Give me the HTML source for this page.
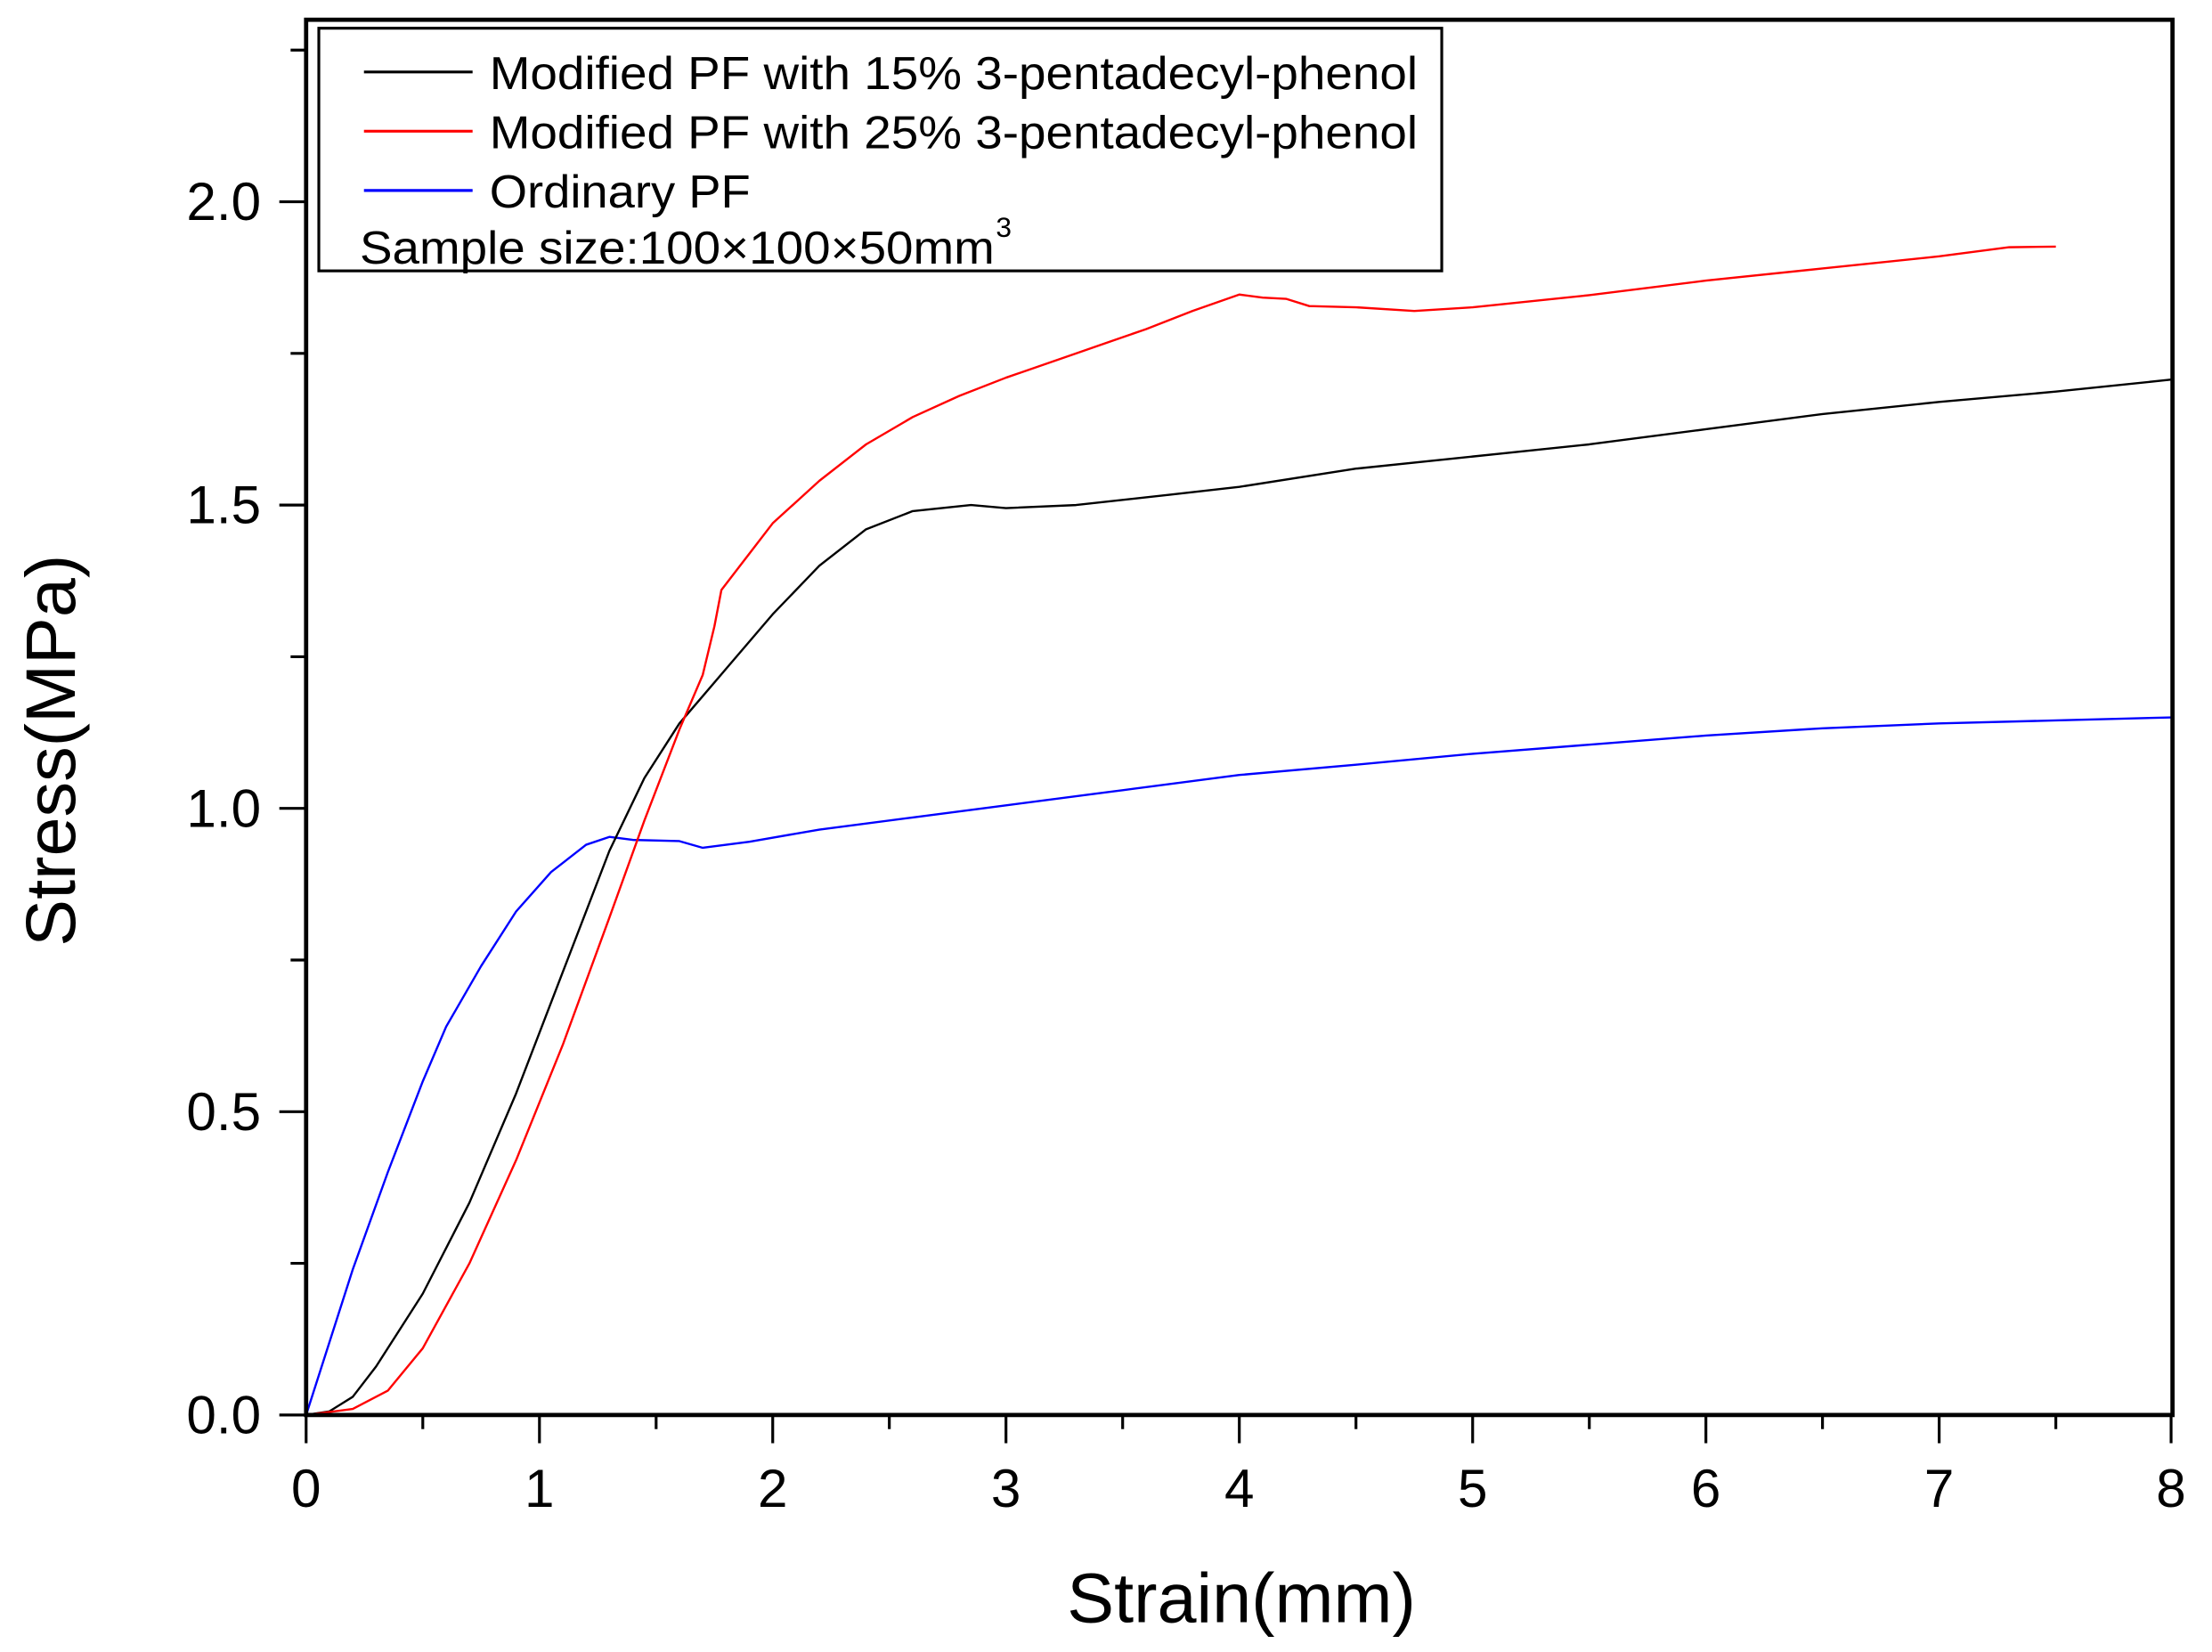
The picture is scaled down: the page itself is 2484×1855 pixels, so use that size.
<!DOCTYPE html>
<html><head><meta charset="utf-8"><style>html,body{margin:0;padding:0;background:#fff}svg{display:block}</style></head>
<body>
<svg width="2484" height="1855" viewBox="0 0 1568 1171" preserveAspectRatio="none" xmlns="http://www.w3.org/2000/svg" font-family="'Liberation Sans', Arial, sans-serif">
<rect width="1568" height="1171" fill="#fff"/>
<g transform="translate(217,1003) scale(165.375,-430)" fill="none" stroke-width="2.4" stroke-linejoin="round">
<polyline vector-effect="non-scaling-stroke" stroke="#0000ff" points="0,0 0.1,0.12 0.2,0.24 0.35,0.4 0.5,0.55 0.6,0.64 0.75,0.74 0.9,0.83 1.05,0.895 1.2,0.94 1.3,0.953 1.4,0.948 1.6,0.946 1.7,0.935 1.9,0.945 2.2,0.965 2.6,0.985 3,1.005 3.5,1.03 4,1.055 4.5,1.072 5,1.09 5.5,1.105 6,1.12 6.5,1.132 7,1.14 7.5,1.145 8,1.15"/>
<polyline vector-effect="non-scaling-stroke" stroke="#000" points="0,0 0.1,0.006 0.2,0.03 0.3,0.08 0.5,0.2 0.7,0.35 0.9,0.53 1.1,0.73 1.3,0.93 1.45,1.05 1.6,1.14 1.8,1.23 2,1.32 2.2,1.4 2.4,1.46 2.6,1.49 2.85,1.5 3,1.495 3.3,1.5 3.7,1.517 4,1.53 4.5,1.56 5,1.58 5.5,1.6 6,1.625 6.5,1.65 7,1.67 7.5,1.687 8,1.707"/>
<polyline vector-effect="non-scaling-stroke" stroke="#ff0000" points="0,0 0.2,0.01 0.35,0.04 0.5,0.11 0.7,0.25 0.9,0.42 1.1,0.61 1.3,0.82 1.45,0.98 1.6,1.13 1.7,1.22 1.75,1.3 1.78,1.36 1.9,1.42 2,1.47 2.2,1.54 2.4,1.6 2.6,1.645 2.8,1.68 3,1.71 3.3,1.75 3.6,1.79 3.8,1.82 4,1.847 4.1,1.842 4.2,1.84 4.3,1.828 4.5,1.826 4.75,1.82 5,1.826 5.5,1.846 6,1.87 6.5,1.89 7,1.91 7.3,1.925 7.5,1.926"/>
</g>
<rect x="217" y="14" width="1323" height="989" fill="none" stroke="#000" stroke-width="3"/>
<g stroke="#000" stroke-width="2">
<line x1="217" y1="1003" x2="217" y2="1023"/><line x1="382.4" y1="1003" x2="382.4" y2="1023"/><line x1="547.75" y1="1003" x2="547.75" y2="1023"/><line x1="713.1" y1="1003" x2="713.1" y2="1023"/><line x1="878.5" y1="1003" x2="878.5" y2="1023"/><line x1="1043.9" y1="1003" x2="1043.9" y2="1023"/><line x1="1209.25" y1="1003" x2="1209.25" y2="1023"/><line x1="1374.6" y1="1003" x2="1374.6" y2="1023"/><line x1="1539" y1="1003" x2="1539" y2="1023"/>
<line x1="299.7" y1="1003" x2="299.7" y2="1013"/><line x1="465.1" y1="1003" x2="465.1" y2="1013"/><line x1="630.4" y1="1003" x2="630.4" y2="1013"/><line x1="795.8" y1="1003" x2="795.8" y2="1013"/><line x1="961.2" y1="1003" x2="961.2" y2="1013"/><line x1="1126.6" y1="1003" x2="1126.6" y2="1013"/><line x1="1291.9" y1="1003" x2="1291.9" y2="1013"/><line x1="1457.3" y1="1003" x2="1457.3" y2="1013"/>
<line x1="198" y1="1003" x2="217" y2="1003"/><line x1="198" y1="788" x2="217" y2="788"/><line x1="198" y1="573" x2="217" y2="573"/><line x1="198" y1="358" x2="217" y2="358"/><line x1="198" y1="143" x2="217" y2="143"/>
<line x1="206" y1="895.5" x2="217" y2="895.5"/><line x1="206" y1="680.5" x2="217" y2="680.5"/><line x1="206" y1="465.5" x2="217" y2="465.5"/><line x1="206" y1="250.5" x2="217" y2="250.5"/><line x1="206" y1="35.5" x2="217" y2="35.5"/>
</g>
<g font-size="38" fill="#000">
<g text-anchor="end"><text x="185" y="1016">0.0</text><text x="185" y="801">0.5</text><text x="185" y="586">1.0</text><text x="185" y="371">1.5</text><text x="185" y="156">2.0</text></g>
<g text-anchor="middle"><text x="217" y="1068">0</text><text x="382.4" y="1068">1</text><text x="547.75" y="1068">2</text><text x="713.1" y="1068">3</text><text x="878.5" y="1068">4</text><text x="1043.9" y="1068">5</text><text x="1209.25" y="1068">6</text><text x="1374.6" y="1068">7</text><text x="1539" y="1068">8</text></g>
</g>
<text x="880" y="1150" font-size="50" text-anchor="middle">Strain(mm)</text>
<text transform="translate(53,532) rotate(-90)" font-size="50" text-anchor="middle">Stress(MPa)</text>
<rect x="226" y="20" width="796" height="172" fill="#fff" stroke="#000" stroke-width="2"/>
<line x1="258" y1="51" x2="335" y2="51" stroke="#000" stroke-width="2"/>
<line x1="258" y1="93" x2="335" y2="93" stroke="#ff0000" stroke-width="2"/>
<line x1="258" y1="135" x2="335" y2="135" stroke="#0000ff" stroke-width="2"/>
<g font-size="33" fill="#000">
<text x="347" y="63" textLength="658" lengthAdjust="spacingAndGlyphs">Modified PF with 15% 3-pentadecyl-phenol</text>
<text x="347" y="105" textLength="658" lengthAdjust="spacingAndGlyphs">Modified PF with 25% 3-pentadecyl-phenol</text>
<text x="347" y="147" textLength="185" lengthAdjust="spacingAndGlyphs">Ordinary PF</text>
<text x="255" y="187" textLength="450" lengthAdjust="spacingAndGlyphs">Sample size:100×100×50mm</text>
<text x="706" y="168" font-size="20">3</text>
</g>
</svg>
</body></html>
